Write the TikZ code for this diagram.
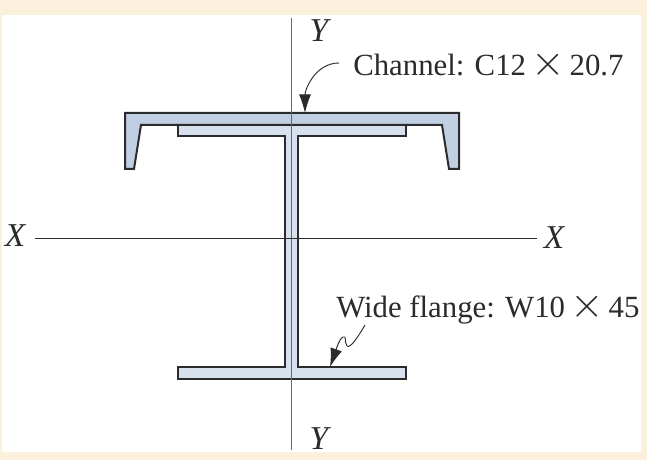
\documentclass[tikz,border=0pt]{standalone}
\usepackage{fontspec}
\setmainfont{Liberation Serif}
\usetikzlibrary{arrows.meta}
\definecolor{creamback}{HTML}{FBF0DC}
\definecolor{channelblue}{HTML}{C1CFE3}
\definecolor{flangeblue}{HTML}{D7E1EE}
\definecolor{axisgray}{HTML}{66666B}
\definecolor{edgedark}{HTML}{2B2B2D}
\newcommand{\bigtimes}{\hspace{4pt}\scalebox{1.3}{$\times$}\hspace{3.5pt}}
\tikzset{
  member/.style={draw=edgedark,line width=1.5pt,line join=miter},
  axisline/.style={draw=axisgray,line width=0.9pt},
  thinaxis/.style={draw=edgedark,line width=0.55pt},
  leader/.style={draw=edgedark,line width=0.7pt,-{Latex[length=14pt,width=9pt]}},
  callout/.style={font=\fontsize{23.1}{26}\selectfont,text=edgedark,inner sep=0pt,anchor=base west},
  axislabel/.style={font=\fontsize{25}{26}\selectfont\itshape,text=edgedark,inner sep=0pt,anchor=base}
}
\begin{document}
\begin{tikzpicture}[x=0.75pt,y=-0.75pt]
  \useasboundingbox (0,0) rectangle (647,460);
  \fill [creamback] (0,0) rectangle (647,460);
  \fill [white] (2,15) rectangle (641,452);
  % wide flange
  \path [member,fill=flangeblue] (178,125) -- (406,125) -- (406,136) -- (298,136) -- (298,367) -- (406,367) -- (406,379) -- (178,379) -- (178,367) -- (285,367) -- (285,136) -- (178,136) -- cycle;
  % channel
  \path [member,fill=channelblue] (125,113) -- (459,113) -- (459,169) -- (449,169) -- (442,125) -- (141,125) -- (134,169) -- (125,169) -- cycle;
  % axes
  \coordinate (ytop) at (291.5,18);
  \coordinate (ybot) at (291.5,450);
  \coordinate (xleft) at (35,238);
  \coordinate (xright) at (537,238);
  \draw [axisline] (ytop) -- (ybot);
  \draw [thinaxis] (xleft) -- (xright);
  \node [axislabel] (ylabtop) at (319,42) {Y};
  \node [axislabel] (ylabbot) at (319,449) {Y};
  \node [axislabel] (xlableft) at (15,247) {X};
  \node [axislabel] (xlabright) at (554,248) {X};
  % labels and leaders
  \node [callout] (channel) at (353,76) {Channel: C12\bigtimes20.7};
  \node [callout] (wide) at (336,317) {Wide flange: W10\bigtimes45};
  \coordinate (channelfrom) at (339,63);
  \coordinate (channeltip) at (305,113);
  \coordinate (widefrom) at (365,325);
  \coordinate (widetip) at (330,367);
  \draw [leader] (channelfrom) to [out=180,in=90] (channeltip);
  \draw [leader] (widefrom) .. controls (358,337) and (350,349) .. (347,346) .. controls (344,342) and (347,335) .. (343,337) .. controls (339,339) and (336,350) .. (widetip);
\end{tikzpicture}
\end{document}
